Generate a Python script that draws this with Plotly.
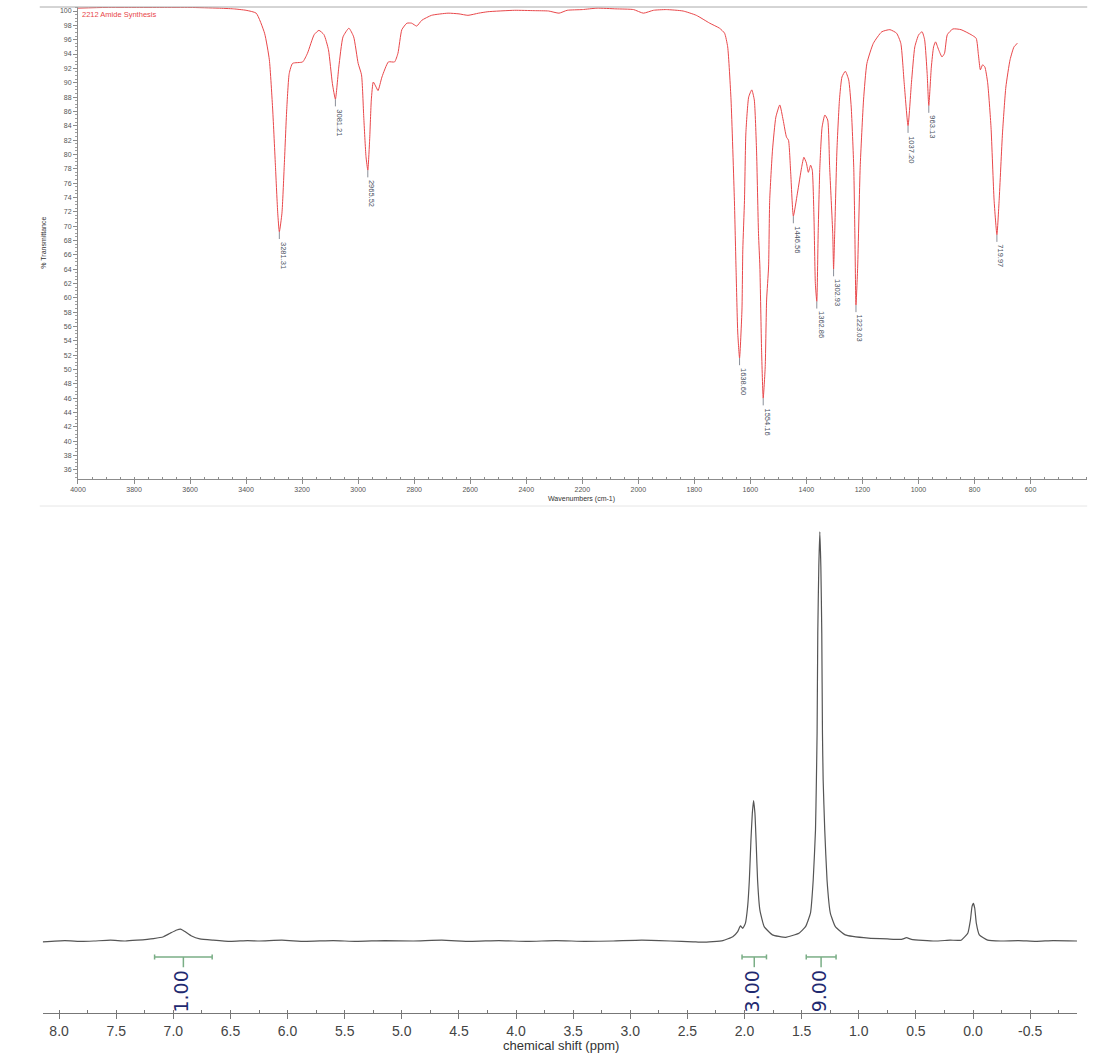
import plotly.graph_objects as go

# ---------------- IR spectrum data (wavenumber cm-1, % transmittance) ----------------
ir_wavenumber = [4000, 3900, 3800, 3700, 3600, 3500, 3445, 3400, 3364, 3334, 3317, 3305, 3295, 3287,
                 3281.31, 3272, 3264, 3255, 3246, 3234, 3198, 3181, 3157, 3140, 3122, 3106, 3092,
                 3081.21, 3069, 3054, 3033, 3016, 3000, 2988, 2980, 2972, 2965.52, 2959, 2953, 2946,
                 2936, 2929, 2915, 2892, 2870, 2858, 2844, 2826, 2809, 2791, 2773, 2738, 2679, 2640,
                 2608, 2570, 2537, 2442, 2372, 2320, 2283, 2254, 2200, 2147, 2080, 2017, 1982, 1946,
                 1900, 1840, 1793, 1745, 1710, 1692, 1681, 1669, 1657, 1651, 1645, 1638.60, 1630,
                 1627, 1621, 1616, 1606, 1595, 1586, 1578, 1571, 1566, 1560, 1554.16, 1547, 1542,
                 1535, 1531, 1521, 1509, 1495, 1483, 1471, 1464, 1456, 1446.56, 1432, 1417, 1409,
                 1400, 1393, 1385, 1379, 1373, 1368, 1362.86, 1358, 1352, 1344, 1334, 1324, 1317,
                 1306, 1302.93, 1299, 1291, 1282, 1273, 1261, 1249, 1240, 1231, 1227, 1223.03, 1217,
                 1208, 1196, 1184, 1161, 1131, 1102, 1078, 1063, 1051, 1037.20, 1025, 1013, 999, 987,
                 978, 969, 963.13, 954, 946, 939, 928, 916, 907, 897, 877, 848, 812, 794, 786, 779,
                 771, 763, 753, 741, 730, 719.97, 712, 700, 688, 673, 659, 647]
ir_transmittance = [100.4, 100.5, 100.5, 100.5, 100.5, 100.4, 100.3, 100.1, 99.7, 96.9, 93.2, 86.2, 78.2, 71.8,
                    69.2, 71.8, 78.2, 86.2, 91.3, 92.7, 92.9, 94.1, 96.7, 97.3, 96.7, 94.6, 89.9,
                    87.7, 92.2, 96.4, 97.6, 96.4, 92.7, 91.1, 85.2, 79.7, 77.8, 82.0, 87.6, 90.1,
                    89.4, 88.9, 90.8, 92.9, 92.9, 94.1, 97.4, 98.3, 98.3, 97.9, 98.7, 99.4, 99.7, 99.6,
                    99.4, 99.7, 99.9, 100.1, 100.05, 100.0, 99.7, 100.1, 100.2, 100.4, 100.3, 100.2, 99.7, 100.1,
                    100.2, 100.0, 99.4, 98.3, 97.6, 96.9, 95.0, 87.6, 73.6, 63.9, 55.1, 51.6, 58.3,
                    66.7, 73.6, 83.0, 88.0, 89.0, 87.6, 80.6, 69.0, 64.3, 52.7, 46.0, 50.4, 59.7,
                    64.3, 73.6, 80.6, 85.2, 86.9, 84.8, 82.4, 82.0, 77.4, 71.4, 74.6, 78.2, 79.6,
                    78.8, 77.5, 78.5, 77.8, 71.3, 62.0, 59.5, 69.0, 78.2, 83.8, 85.5, 84.8, 78.2,
                    69.0, 64.0, 69.0, 80.6, 87.6, 90.8, 91.6, 90.4, 86.6, 78.2, 69.0, 59.0, 64.3,
                    78.2, 87.6, 92.7, 95.5, 97.1, 97.4, 96.9, 95.5, 90.0, 84.0, 90.0, 95.0, 96.7, 97.1,
                    96.0, 91.3, 86.8, 92.2, 95.0, 95.7, 94.6, 93.6, 94.1, 96.7, 97.5, 97.4, 96.7, 96.2, 93.9, 91.8,
                    92.5, 92.2, 90.0, 83.8, 73.6, 68.8, 73.6, 83.0, 89.4, 93.2, 95.0, 95.5]

ir_peak_wavenumber = [3281.31, 3081.21, 2965.52, 1638.60, 1554.16, 1446.56, 1362.86, 1302.93,
                      1223.03, 1037.20, 963.13, 719.97]
ir_peak_transmittance = [69.2, 87.7, 77.8, 51.6, 46.0, 71.4, 59.5, 64.0, 59.0, 84.0, 86.8, 68.8]

ir_title = "2212 Amide Synthesis"
ir_xtitle = "Wavenumbers (cm-1)"
ir_ytitle = "% Transmittance"
ir_xticks = list(range(600, 4001, 200))

# ---------------- 1H NMR data (ppm, relative intensity) ----------------
nmr_ppm = [8.143, 7.95, 7.80, 7.694, 7.55, 7.42, 7.318, 7.173, 7.086, 7.028, 6.970, 6.936, 6.898,
           6.840, 6.768, 6.651, 6.50, 6.35, 6.246, 6.05, 5.85, 5.60, 5.40, 5.15, 4.90, 4.65, 4.40,
           4.15, 3.90, 3.65, 3.40, 3.15, 2.90, 2.65, 2.45, 2.364, 2.190, 2.103, 2.060, 2.036, 2.016,
           1.993, 1.973, 1.958, 1.944, 1.932, 1.921, 1.909, 1.897, 1.886, 1.866, 1.828, 1.756, 1.640,
           1.524, 1.466, 1.423, 1.399, 1.379, 1.371, 1.365, 1.359, 1.350, 1.341, 1.332, 1.324, 1.318,
           1.312, 1.298, 1.278, 1.249, 1.205, 1.119, 0.915, 0.75, 0.626, 0.582, 0.539, 0.336, 0.20,
           0.104, 0.046, 0.023, 0.009, -0.003, -0.015, -0.029, -0.055, -0.128, -0.243, -0.40, -0.55,
           -0.70, -0.91]
nmr_intensity = [-0.2, 0.1, -0.1, 0.0, 0.2, 0.0, 0.2, 0.6, 1.05, 1.9, 2.7, 2.9, 2.3,
                 1.2, 0.5, 0.2, -0.1, 0.1, 0.0, 0.2, -0.1, 0.1, -0.1, 0.1, 0.0, 0.2, -0.1,
                 0.1, -0.1, 0.1, -0.1, 0.0, 0.2, 0.0, -0.2, -0.3, 0.1, 1.05, 2.3, 3.7, 3.1,
                 4.3, 8.4, 14.9, 24.7, 31.2, 34.3, 31.2, 23.1, 14.9, 7.6, 3.5, 1.5, 0.9,
                 1.9, 3.5, 6.8, 14.9, 27.1, 39.4, 50.8, 75.2, 91.5, 100.0, 91.5, 75.2, 50.8,
                 39.4, 27.1, 14.9, 6.8, 3.5, 1.5, 0.7, 0.5, 0.4, 0.8, 0.4, 0.0, 0.2,
                 0.2, 1.9, 5.1, 8.4, 9.2, 8.0, 4.3, 1.5, 0.2, 0.0, 0.1, -0.1,
                 0.1, 0.0]

integ_start = [7.164, 2.022, 1.460]
integ_end = [6.660, 1.808, 1.199]
integ_center = [6.912, 1.915, 1.330]
integ_label = ["1.00", "3.00", "9.00"]

nmr_xticks = [8.0, 7.5, 7.0, 6.5, 6.0, 5.5, 5.0, 4.5, 4.0, 3.5, 3.0, 2.5, 2.0, 1.5, 1.0, 0.5, 0.0, -0.5]
nmr_xtitle = "chemical shift (ppm)"

# ---------------- layout geometry (pixels) ----------------
W, H = 1118, 1058
def px(x):
    return x / W
def py(y):
    return 1 - y / H

IR_COLOR = "#e8474a"
FONT = "Liberation Sans"

fig = go.Figure()

fig.add_trace(go.Scatter(x=ir_wavenumber, y=ir_transmittance, mode="lines",
                         line=dict(color=IR_COLOR, width=1, shape="spline", smoothing=0.5),
                         xaxis="x", yaxis="y", hoverinfo="skip", showlegend=False))

# little leader ticks below each labelled minimum
tx, ty = [], []
for w, t in zip(ir_peak_wavenumber, ir_peak_transmittance):
    tx += [w, w, None]
    ty += [t, t - 1.0, None]
fig.add_trace(go.Scatter(x=tx, y=ty, mode="lines", line=dict(color="#8a8f99", width=1),
                         xaxis="x", yaxis="y", hoverinfo="skip", showlegend=False))

for w, t in zip(ir_peak_wavenumber, ir_peak_transmittance):
    fig.add_annotation(x=w, y=t, xref="x", yref="y", text=f"{w:.2f}", showarrow=False,
                       textangle=90, xanchor="center", yanchor="top", xshift=4, yshift=-8,
                       font=dict(family=FONT, size=7.5, color="#4a5262"))

# NMR trace
fig.add_trace(go.Scatter(x=nmr_ppm, y=nmr_intensity, mode="lines",
                         line=dict(color="#555555", width=1.2, shape="spline", smoothing=0.4),
                         xaxis="x2", yaxis="y2", hoverinfo="skip", showlegend=False))

# integration bars
YB, CAP, YC = -3.9, 0.6, -6.4
gx, gy = [], []
for s, e, c in zip(integ_start, integ_end, integ_center):
    gx += [s, e, None, s, s, None, e, e, None, c, c, None]
    gy += [YB, YB, None, YB - CAP, YB + CAP, None, YB - CAP, YB + CAP, None, YB, YC, None]
fig.add_trace(go.Scatter(x=gx, y=gy, mode="lines", line=dict(color="#7aae86", width=1.5),
                         xaxis="x2", yaxis="y2", hoverinfo="skip", showlegend=False))
for c, lab in zip(integ_center, integ_label):
    fig.add_annotation(x=c, y=YC, xref="x2", yref="y2", text=lab, showarrow=False,
                       textangle=-90, xanchor="center", yanchor="top", xshift=-2, yshift=-1,
                       font=dict(family="DejaVu Sans", size=19, color="#1f2a70"))

# texts
fig.add_annotation(x=px(73), y=py(14), xref="paper", yref="paper", text=ir_title, showarrow=False,
                   xanchor="left", yanchor="middle", font=dict(family=FONT, size=7.5, color=IR_COLOR))
fig.add_annotation(x=px(578), y=py(499), xref="paper", yref="paper", text=ir_xtitle, showarrow=False,
                   xanchor="center", yanchor="middle", font=dict(family=FONT, size=7, color="#333333"))
fig.add_annotation(x=px(36), y=py(243), xref="paper", yref="paper", text=ir_ytitle, showarrow=False,
                   textangle=-90, xanchor="center", yanchor="middle",
                   font=dict(family=FONT, size=7, color="#333333"))
fig.add_annotation(x=px(557), y=py(1045), xref="paper", yref="paper", text=nmr_xtitle, showarrow=False,
                   xanchor="center", yanchor="middle", font=dict(family=FONT, size=13, color="#333333"))

# separator lines
fig.add_shape(type="line", xref="paper", yref="paper", x0=px(32), x1=px(1087), y0=py(7), y1=py(7),
              line=dict(color="#aaaaaa", width=1))
fig.add_shape(type="line", xref="paper", yref="paper", x0=px(32), x1=px(1087), y0=py(506), y1=py(506),
              line=dict(color="#e6e6e6", width=1))

fig.update_layout(
    width=W, height=H, margin=dict(l=0, r=0, t=0, b=0),
    paper_bgcolor="white", plot_bgcolor="white", showlegend=False,
    xaxis=dict(domain=[px(70.5), px(1087)], range=[4000, 397.6], anchor="y",
               showline=True, linecolor="#8c8c8c", linewidth=1, mirror=False,
               tickmode="array", tickvals=ir_xticks, ticktext=[str(v) for v in ir_xticks],
               ticks="outside", ticklen=4, tickcolor="#8c8c8c",
               minor=dict(dtick=50, tick0=0, ticks="inside", ticklen=2, tickcolor="#8c8c8c"),
               tickfont=dict(family=FONT, size=7, color="#555555"),
               showgrid=False, zeroline=False, fixedrange=True),
    yaxis=dict(domain=[py(479), py(7)], range=[34.73, 100.56], anchor="x",
               showline=True, linecolor="#8c8c8c", linewidth=1,
               tickmode="linear", tick0=0, dtick=2,
               ticks="outside", ticklen=4, tickcolor="#8c8c8c",
               minor=dict(dtick=0.5, tick0=0, ticks="outside", ticklen=2, tickcolor="#a0a0a0"),
               tickfont=dict(family=FONT, size=7, color="#555555"),
               showgrid=False, zeroline=False, fixedrange=True),
    xaxis2=dict(domain=[px(35), px(1076.7)], range=[8.143, -0.91], anchor="y2",
                showline=True, linecolor="#777777", linewidth=1,
                tickmode="array", tickvals=nmr_xticks, ticktext=[f"{v:.1f}" for v in nmr_xticks],
                ticks="outside", ticklen=5, tickcolor="#777777",
                minor=dict(dtick=0.25, tick0=0, ticks="inside", ticklen=3, tickcolor="#777777"),
                tickfont=dict(family=FONT, size=14, color="#444444"),
                showgrid=False, zeroline=False, fixedrange=True),
    yaxis2=dict(domain=[py(1013), py(520)], range=[-17.6, 102.9], anchor="x2",
                visible=False, showgrid=False, zeroline=False, fixedrange=True),
)

fig.write_html("out.html", config={"displayModeBar": False},
               post_script="document.body.style.margin='0';document.body.style.overflow='hidden';")
